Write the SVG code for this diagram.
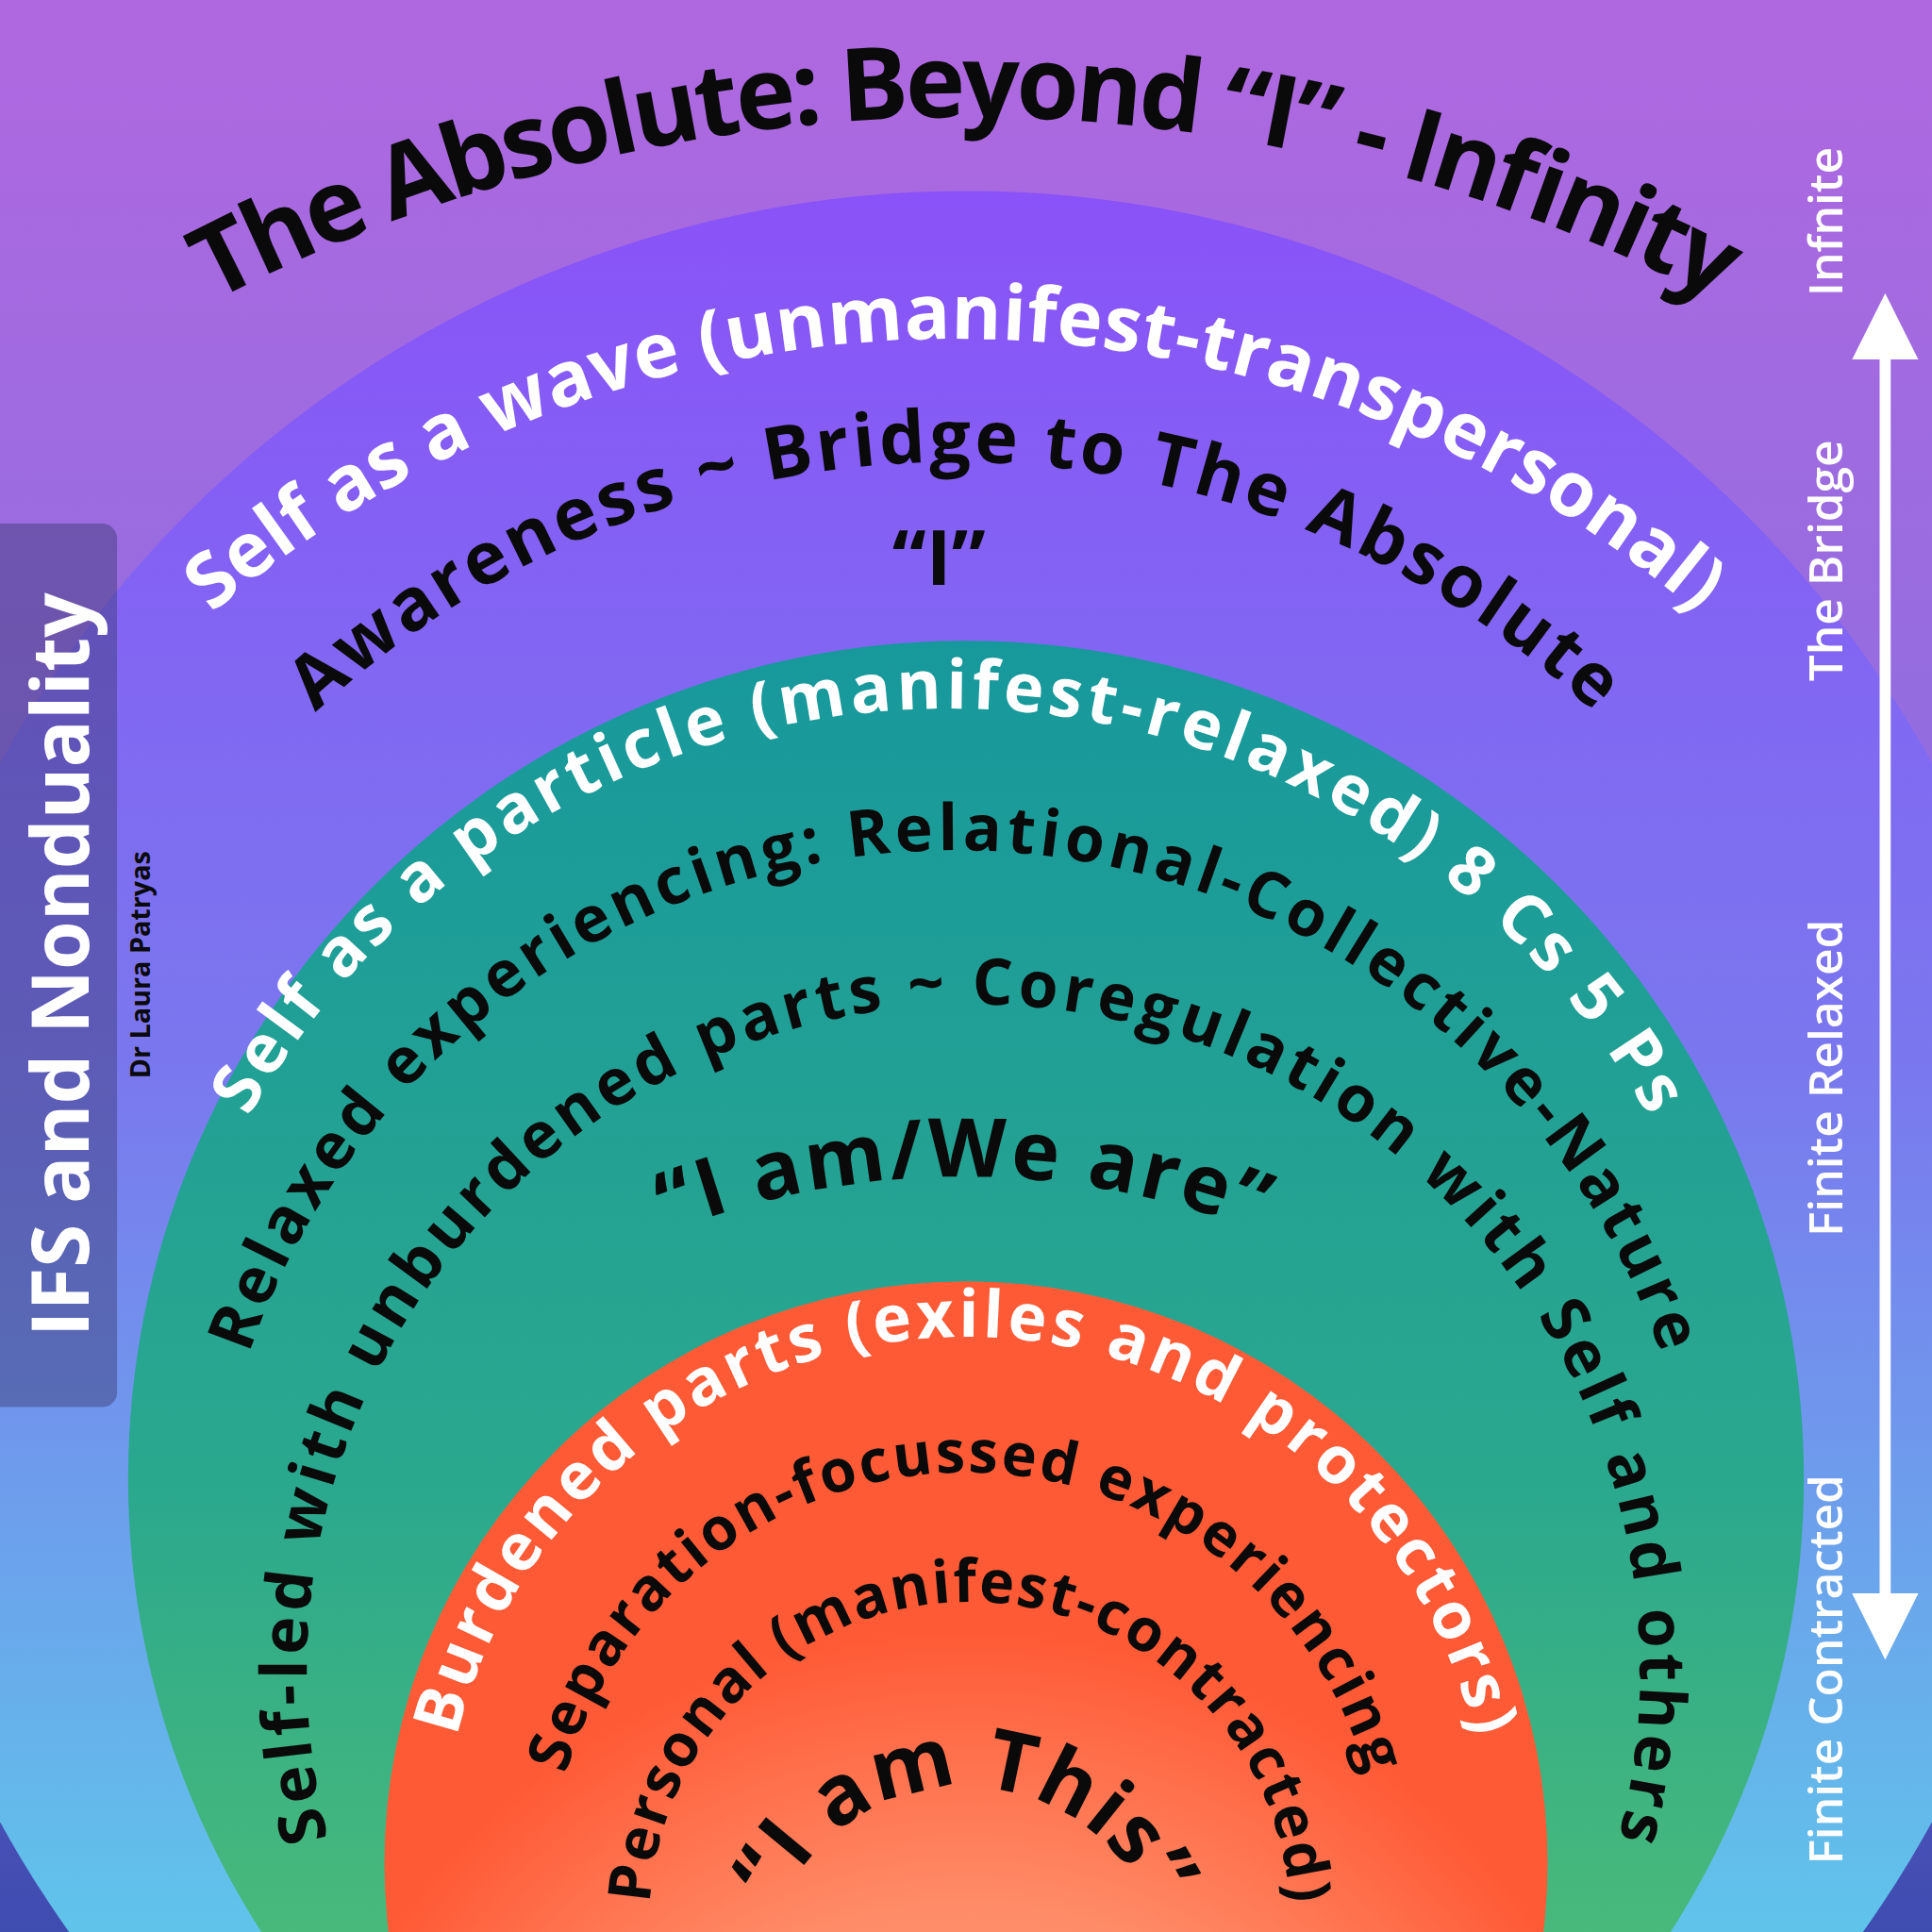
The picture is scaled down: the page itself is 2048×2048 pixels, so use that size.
<svg xmlns="http://www.w3.org/2000/svg" width="2048" height="2048" viewBox="0 0 2048 2048">
<defs>
<linearGradient id="bg" x1="0" y1="0" x2="0" y2="1"><stop offset="0" stop-color="#b068e0"/><stop offset="0.5" stop-color="#8a6ee0"/><stop offset="1" stop-color="#3f4cb0"/></linearGradient>
<linearGradient id="outer" x1="0" y1="0" x2="0" y2="1"><stop offset="0" stop-color="#8a52f8"/><stop offset="0.4" stop-color="#7a78ee"/><stop offset="0.8" stop-color="#5fc6ea"/><stop offset="1" stop-color="#60d0e8"/></linearGradient>
<linearGradient id="teal" x1="0" y1="0" x2="0" y2="1"><stop offset="0" stop-color="#17989c"/><stop offset="0.5" stop-color="#2aa88e"/><stop offset="1" stop-color="#62c86a"/></linearGradient>
<radialGradient id="orange" cx="0.5" cy="0.9" r="0.6"><stop offset="0" stop-color="#ffa27e"/><stop offset="0.6" stop-color="#ff8c68"/><stop offset="1" stop-color="#ff5a36"/></radialGradient>
<marker id="ah" viewBox="0 0 10 10" refX="5" refY="5" markerWidth="6" markerHeight="6" orient="auto-start-reverse"><path d="M0,0 L10,5 L0,10 z" fill="#fff"/></marker>
<path id="p1" d="M784,2735 A1320,1320 0 1 1 784,95 A1320,1320 0 1 1 784,2735"/>
<path id="p2" d="M775,2127 A926,926 0 1 1 775,275 A926,926 0 1 1 775,2127"/>
<path id="p3" d="M775,1903 A764,764 0 1 1 775,375 A764,764 0 1 1 775,1903"/>
<path id="p5" d="M770,1881 A653,653 0 1 1 770,575 A653,653 0 1 1 770,1881"/>
<path id="p6" d="M775,1902 A606,606 0 1 1 775,690 A606,606 0 1 1 775,1902"/>
<path id="p7" d="M790,1897 A541,541 0 1 1 790,815 A541,541 0 1 1 790,1897"/>
<path id="p8" d="M782,2279 A662,662 0 1 1 782,955 A662,662 0 1 1 782,2279"/>
<path id="p9" d="M784,1935 A425,425 0 1 1 784,1085 A425,425 0 1 1 784,1935"/>
<path id="p10" d="M784,1871 A338,338 0 1 1 784,1195 A338,338 0 1 1 784,1871"/>
<path id="p11" d="M787,1820 A260,260 0 1 1 787,1300 A260,260 0 1 1 787,1820"/>
<path id="p12" d="M783,1780 A165,165 0 1 1 783,1450 A165,165 0 1 1 783,1780"/>
</defs>
<style>
.t{font-family:"Open Sans","Liberation Sans",sans-serif;font-weight:700;text-anchor:middle}
.w{fill:#fff}.k{fill:#0a0a0a}
.side{font-family:"Open Sans","Liberation Sans",sans-serif;font-weight:600;fill:#fff;font-size:38px;text-anchor:middle}
</style>
<rect width="2048" height="2048" fill="url(#bg)"/>
<g transform="scale(1.30612)">
<g id="rings">
<circle cx="784" cy="1049" r="894" fill="url(#outer)"/>
<circle cx="784" cy="1200" r="680" fill="url(#teal)"/>
<circle cx="784" cy="1512" r="472" fill="url(#orange)"/>
</g>
<g id="labels">
<text class="t k" font-size="82"><textPath href="#p1" startOffset="50%" textLength="1270" lengthAdjust="spacing">The Absolute: Beyond “I” - Infinity</textPath></text>
<text class="t w" font-size="62"><textPath href="#p2" startOffset="50%" textLength="1313" lengthAdjust="spacing">Self as a wave (unmanifest-transpersonal)</textPath></text>
<text class="t k" font-size="59"><textPath href="#p3" startOffset="50%" textLength="1141" lengthAdjust="spacing">Awareness ~ Bridge to The Absolute</textPath></text>
<text class="t k" font-size="62" x="762" y="475">“I”</text>
<text class="t w" font-size="55"><textPath href="#p5" startOffset="50%" textLength="1379" lengthAdjust="spacing">Self as a particle (manifest-relaxed) 8 Cs 5 Ps</textPath></text>
<text class="t k" font-size="52"><textPath href="#p6" startOffset="50%" textLength="1502" lengthAdjust="spacing">Relaxed experiencing: Relational-Collective-Nature</textPath></text>
<text class="t k" font-size="52"><textPath href="#p7" startOffset="50%" textLength="1975" lengthAdjust="spacing">Self-led with unburdened parts ~ Coregulation with Self and others</textPath></text>
<text class="t k" font-size="66"><textPath href="#p8" startOffset="50%" textLength="490" lengthAdjust="spacing">“I am/We are”</textPath></text>
<text class="t w" font-size="53"><textPath href="#p9" startOffset="50%" textLength="1133" lengthAdjust="spacing">Burdened parts (exiles and protectors)</textPath></text>
<text class="t k" font-size="48"><textPath href="#p10" startOffset="50%" textLength="873" lengthAdjust="spacing">Separation-focussed experiencing</textPath></text>
<text class="t k" font-size="48"><textPath href="#p11" startOffset="50%" textLength="786" lengthAdjust="spacing">Personal (manifest-contracted)</textPath></text>
<text class="t k" font-size="68"><textPath href="#p12" startOffset="50%" textLength="375" lengthAdjust="spacing">“I am This”</textPath></text>
</g>
<g id="title-box">
<rect x="-10" y="425" width="105" height="717" rx="12" fill="#3a3a70" fill-opacity="0.45"/>
<text class="t w" font-size="64" font-weight="600" transform="translate(72,783) rotate(-90)">IFS and Nonduality</text>
<text class="t k" font-size="22" font-weight="600" transform="translate(122,783) rotate(-90)">Dr Laura Patryas</text>
</g>
<g id="side-labels">
<text class="side" transform="translate(1495,180) rotate(-90)">Infnite</text>
<text class="side" transform="translate(1495,455) rotate(-90)">The Bridge</text>
<text class="side" transform="translate(1495,875) rotate(-90)">Finite Relaxed</text>
<text class="side" transform="translate(1495,1355) rotate(-90)">Finite Contracted</text>
</g>
<g id="connectors">
<line x1="1530" y1="265" x2="1530" y2="1320" stroke="#fff" stroke-width="9" marker-start="url(#ah)" marker-end="url(#ah)"/>
</g>
</g>
</svg>
